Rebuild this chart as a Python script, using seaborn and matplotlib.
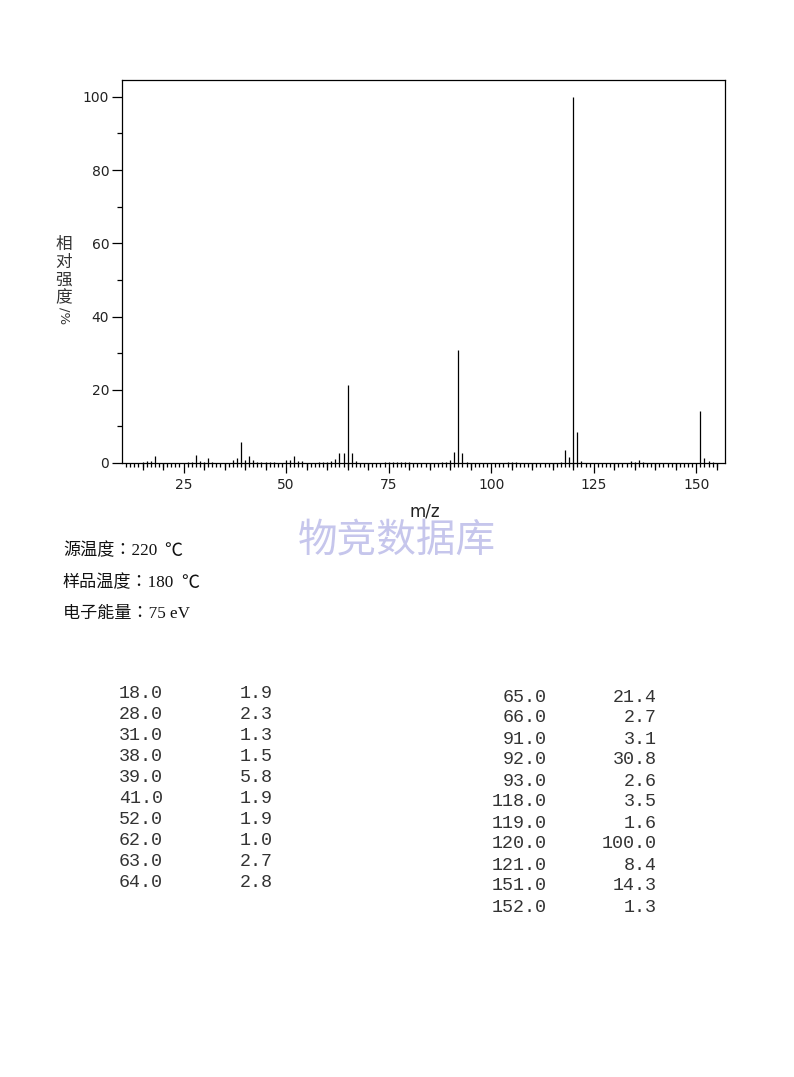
import numpy as np
import pandas as pd
import matplotlib
matplotlib.use("Agg")
import matplotlib.pyplot as plt
import seaborn as sns

# peaks listed in the table (>= 1 %)
table_mz = [18, 28, 31, 38, 39, 41, 52, 62, 63, 64,
            65, 66, 91, 92, 93, 118, 119, 120, 121, 151, 152]
table_int = [1.9, 2.3, 1.3, 1.5, 5.8, 1.9, 1.9, 1.0, 2.7, 2.8,
             21.4, 2.7, 3.1, 30.8, 2.6, 3.5, 1.6, 100.0, 8.4, 14.3, 1.3]

# small peaks (< 1 %)
small_mz = [15, 16, 17, 26, 27, 29, 30, 32, 37, 40, 42, 43, 44, 45, 46, 47,
            50, 51, 53, 54, 58, 59, 60, 61, 67, 74, 75, 76, 77, 78, 79, 80,
            88, 89, 90, 94, 104, 105, 106, 117, 122, 134, 135, 136, 137, 153, 154]
small_int = [0.4, 0.5, 0.6, 0.4, 0.4, 0.6, 0.4, 0.3, 0.9, 0.7, 0.8, 0.3, 0.3, 0.3, 0.4, 0.3,
             0.9, 0.7, 0.6, 0.5, 0.3, 0.3, 0.3, 0.6, 0.5, 0.3, 0.3, 0.3, 0.3, 0.3, 0.3, 0.3,
             0.4, 0.4, 0.9, 0.4, 0.3, 0.4, 0.3, 0.4, 0.5, 0.6, 0.3, 0.8, 0.3, 0.5, 0.2]

# (text, unit) for the conditions block
info_lines = [("源温度：220", "℃"), ("样品温度：180", "℃"), ("电子能量：75 eV", "")]
ylabel_chars = ["相", "对", "强", "度"]
watermark = "物竞数据库"

df = pd.DataFrame({"mz": table_mz + small_mz, "rel": table_int + small_int})

sns.set_style("ticks")
plt.rcParams["font.family"] = ["DejaVu Sans", "Noto Sans CJK SC"]

W, H = 794, 1077
fig = plt.figure(figsize=(W / 100, H / 100), dpi=100)

def fx(px):
    return px / W

def fy(py):
    return 1 - py / H

ax = fig.add_axes([fx(122), fy(463), fx(725) - fx(122), fy(80) - fy(463)])
ax.vlines(df["mz"], 0, df["rel"], color="black", linewidth=0.9)
ax.set_xlim(10, 157)
ax.set_ylim(0, 104.6)

for s in ax.spines.values():
    s.set_color("black")
    s.set_linewidth(0.9)

ax.set_xticks(range(25, 151, 25))
ax.set_xticks(range(11, 156), minor=True)
ax.set_yticks(range(0, 101, 20))
ax.set_yticks(range(10, 100, 20), minor=True)
ax.tick_params(axis="x", which="major", length=7.2, width=0.9, color="black",
               labelsize=10, pad=3.5, labelcolor="#222")
ax.tick_params(axis="x", which="minor", length=2.9, width=0.9, color="black")
ax.tick_params(axis="y", which="major", length=7.2, width=0.9, color="black",
               labelsize=10, pad=2, labelcolor="#222")
ax.tick_params(axis="y", which="minor", length=3.6, width=0.9, color="black")

# medium ticks every 5
ax2 = ax.twiny()
ax2.set_xlim(ax.get_xlim())
ax2.xaxis.set_ticks_position("bottom")
ax2.set_xticks([t for t in range(15, 156, 5) if t % 25 != 0])
ax2.set_xticklabels([])
ax2.tick_params(axis="x", length=4.8, width=0.9, color="black")
for s in ax2.spines.values():
    s.set_visible(False)

fig.text(fx(425), fy(512), "m/z", ha="center", va="center", fontsize=12, color="#222")

# vertical y label
for i, ch in enumerate(ylabel_chars):
    fig.text(fx(64), fy(244.5 + 17.7 * i), ch, ha="center", va="center",
             fontsize=12, family=["Noto Sans CJK SC"], color="#333")
fig.text(fx(64), fy(316), "/%", ha="center", va="center", rotation=-90,
         fontsize=9.5, color="#333")

fig.text(fx(397), fy(540), watermark, ha="center", va="center", fontsize=28.5,
         color="#c6c6ec", family=["Noto Sans CJK SC"])

for i, (line, unit) in enumerate(info_lines):
    t = fig.text(fx(63), fy(551 + 31.5 * i), line, ha="left", va="center", fontsize=12.3,
                 family=["Liberation Serif", "Noto Sans CJK TC"], color="#111")
    if unit:
        ax.annotate(unit, xy=(1, 0.5), xycoords=t, xytext=(5, 0),
                    textcoords="offset points", ha="left", va="center",
                    fontsize=13, family=["Noto Sans CJK TC"], color="#111",
                    annotation_clip=False)

# peak table
mono = ["Liberation Mono"]
for i in range(10):
    yy = fy(693 + 21.1 * i)
    fig.text(fx(163), yy, f"{table_mz[i]:.1f}", ha="right", va="center",
             fontsize=13.2, family=mono, color="#333")
    fig.text(fx(273), yy, f"{table_int[i]:.1f}", ha="right", va="center",
             fontsize=13.2, family=mono, color="#333")
for j, i in enumerate(range(10, 21)):
    yy = fy(697 + 21.0 * j)
    fig.text(fx(547), yy, f"{table_mz[i]:.1f}", ha="right", va="center",
             fontsize=13.2, family=mono, color="#333")
    fig.text(fx(657), yy, f"{table_int[i]:.1f}", ha="right", va="center",
             fontsize=13.2, family=mono, color="#333")

fig.savefig("out.png", dpi=100, facecolor="white")
